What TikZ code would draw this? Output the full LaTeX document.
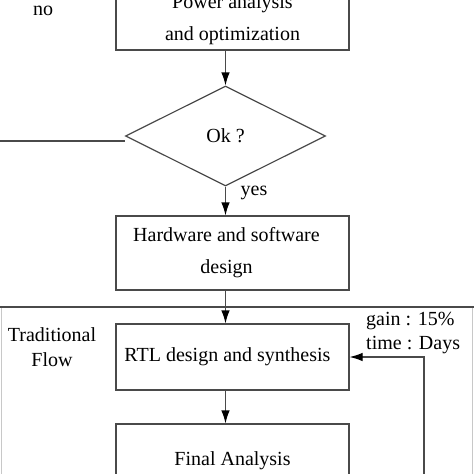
\documentclass[tikz,border=0pt]{standalone}
\usepackage{fontspec}
\setmainfont{Liberation Serif}
\usetikzlibrary{shapes.geometric,arrows.meta}
\definecolor{ln}{HTML}{4A4A4A}
\definecolor{lt}{HTML}{C8C8C8}
\newcommand{\lsh}{\hspace*{-12pt}}
\begin{document}
\begin{tikzpicture}[x=1pt,y=-1pt,
  every node/.style={font=\fontsize{20}{32}\selectfont, text=black},
  box/.style={draw=ln, line width=1.2pt, minimum width=233pt, align=center, inner sep=0pt},
  dia/.style={draw=ln, line width=1.2pt, diamond, minimum width=200pt, minimum height=100pt, inner sep=0pt},
  arr/.style={draw=ln, line width=1.2pt, -{Latex[length=13pt,width=8.5pt,color=black]}},
  ln/.style={draw=ln, line width=1.2pt},
  lbl/.style={inner sep=0pt}
]
\useasboundingbox (0,0) rectangle (474,474);
\clip (0,0) rectangle (474,474);
% region
\draw[lt, line width=0.8pt] (1,307) -- (1,480);
\draw[lt, line width=0.8pt] (472,307) -- (472,480);
\draw[ln, line width=1.2pt] (0,307) -- (474,307);
\node[box, minimum height=60pt] (pa) at (232.5,20) {Power analysis\\and optimization};
\node[dia] (ok) at (225.5,136) {Ok ?};
\node[box, minimum height=74pt] (hw) at (232.5,253) {\lsh Hardware and software\\\lsh design};
\node[box, minimum height=66pt] (rtl) at (232.5,357) {\hspace*{-10pt}RTL design and synthesis};
\node[box, minimum height=74pt] (fa) at (232.5,461) {Final Analysis};
\node[lbl] (no) at (43,11) {no};
\node[lbl] (yes) at (254,193) {yes};
\node[lbl, align=center, font=\fontsize{20}{25}\selectfont] (tf) at (52,347) {Traditional\\Flow};
\node[lbl, align=left, anchor=west, font=\fontsize{20}{24}\selectfont] (gain) at (366,333) {gain : 15\%\\time : Days};
\coordinate (nofree) at (0,141);
\coordinate (fbot) at (424,480);
\draw[arr] (pa.south -| ok.north) -- (ok.north);
\draw[ln] (nofree) -- ([yshift=-5pt]ok.west);
\draw[arr] (ok.south) -- (ok.south |- hw.north);
\draw[arr] (ok.south |- hw.south) -- (ok.south |- rtl.north);
\draw[arr] (ok.south |- rtl.south) -- (ok.south |- fa.north);
\draw[arr] (fbot) -- (fbot |- rtl.east) -- (rtl.east);
\end{tikzpicture}
\end{document}
